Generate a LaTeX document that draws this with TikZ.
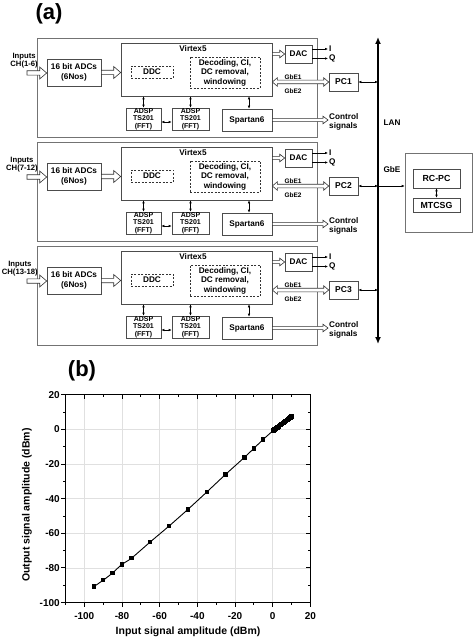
\documentclass[tikz,border=0pt]{standalone}
\usepackage{fontspec}
\setmainfont{Liberation Sans}
\usetikzlibrary{arrows.meta,calc}
\newcommand\fz[2]{\fontsize{#1}{#2}\selectfont\bfseries}
\tikzset{
  box/.style={draw=black!70, line width=0.6pt, fill=white, inner sep=0pt, align=center, font=\fz{8.2}{9.5}},
  dbox/.style={box, dash pattern=on 2pt off 1.5pt, line width=0.7pt, draw=black!80},
  board/.style={draw=black!55, line width=0.6pt, inner sep=0pt},
  txt/.style={inner sep=1pt, align=center, font=\fz{8.2}{9.5}},
  smalltxt/.style={inner sep=0.5pt, font=\fz{6.5}{7.5}},
  adsp/.style={box, font=\fz{7}{7.5}},
  hst/.style={draw=black!80, fill=white, line width=0.6pt},
  sarr/.style={-{Latex[length=3pt,width=2.6pt]}, line width=0.6pt},
  sdarr/.style={{Latex[length=3pt,width=2.6pt]}-{Latex[length=3pt,width=2.6pt]}, line width=0.6pt},
  hollow/.style n args={3}{to path={let \p1=(\tikztostart), \p2=(\tikztotarget) in
    (\x1,\y1+#1) -- (\x2-#3,\y1+#1) -- (\x2-#3,\y1+#2) -- (\x2,\y1) -- (\x2-#3,\y1-#2) -- (\x2-#3,\y1-#1) -- (\x1,\y1-#1) -- cycle}},
  dhollow/.style n args={3}{to path={let \p1=(\tikztostart), \p2=(\tikztotarget) in
    (\x1,\y1) -- (\x1+#3,\y1+#2) -- (\x1+#3,\y1+#1) -- (\x2-#3,\y1+#1) -- (\x2-#3,\y1+#2) -- (\x2,\y1) -- (\x2-#3,\y1-#2) -- (\x2-#3,\y1-#1) -- (\x1+#3,\y1-#1) -- (\x1+#3,\y1-#2) -- cycle}},
  gridl/.style={draw=black!12, line width=0.5pt},
  frame/.style={draw=black, line width=1.1pt},
  tk/.style={line width=0.9pt},
  ticklab/.style={inner sep=0pt, font=\fz{10}{11}},
  axtitle/.style={inner sep=0pt, font=\fz{10.5}{12}},
  panel/.style={inner sep=0pt, font=\fz{22}{24}},
}
\begin{document}
\begin{tikzpicture}[x=1pt, y=-1pt]
\fill[white] (0,0) rectangle (474,639);
\useasboundingbox (0,0) rectangle (474,639);

\node[panel] (pa) at (49,14) {(a)};
\node[panel] (pb) at (82,371) {(b)};

% LAN bus
\coordinate (bustop) at (378,37);
\coordinate (busbot) at (378,344);
\draw[line width=2.4pt, {Latex[length=7pt,width=6pt]}-{Latex[length=7pt,width=6pt]}] (busbot) -- (bustop);
\node[txt] (lan) at (392,123) {LAN};
\node[txt] (gbe) at (392,170) {GbE};

\foreach \k/\lab/\n in {0/1-6/1, 1/7-12/2, 2/13-18/3}{
 \pgfmathsetmacro\dy{104*\k}
 \begin{scope}[shift={(0,\dy)}]
  \node[board, minimum width=280pt, minimum height=99pt] (bd\k) at (177,87.5) {};
  \node[txt, anchor=east, font=\fz{7.7}{8}] (inp\k) at (39,61) {Inputs\\CH(\lab)};
  \coordinate (in\k) at (27,73);
  \node[box, minimum width=54pt, minimum height=27pt] (adc\k) at (74,72.5) {16 bit ADCs\\(6Nos)};
  \node[box, minimum width=151pt, minimum height=53pt] (v\k) at (196.5,69.5) {};
  \node[txt] (vl\k) at (193,49) {Virtex5};
  \node[dbox, minimum width=42pt, minimum height=12pt] (ddc\k) at (152,72) {DDC};
  \node[dbox, minimum width=70pt, minimum height=31pt] (dec\k) at (225,72.5) {Decoding, CI,\\DC removal,\\windowing};
  \node[box, minimum width=27pt, minimum height=18pt] (dac\k) at (298.5,54) {DAC};
  \node[txt, anchor=west] (I\k) at (328,49) {I};
  \node[txt, anchor=west] (Q\k) at (328,58.5) {Q};
  \node[box, minimum width=29pt, minimum height=18pt, font=\fz{8.5}{9.5}] (pc\k) at (343.5,82) {PC\n};
  \node[smalltxt] (ga\k) at (293,77) {GbE1};
  \node[smalltxt] (gb\k) at (293,91) {GbE2};
  \node[box, minimum width=50pt, minimum height=22pt] (sp\k) at (247,120) {Spartan6};
  \node[adsp, minimum width=35pt, minimum height=22pt] (adA\k) at (143.5,119) {ADSP\\TS201\\(FFT)};
  \node[adsp, minimum width=37pt, minimum height=22pt] (adB\k) at (190.5,119) {ADSP\\TS201\\(FFT)};
  \node[txt, anchor=west, align=left, inner sep=1pt] (cs\k) at (328,122) {Control\\signals};

  \draw[hst] (in\k) to[hollow={2.2pt}{6pt}{7pt}] (adc\k.west);
  \draw[hst] (adc\k.east) to[hollow={2.2pt}{6pt}{7pt}] (adc\k.east -| v\k.west);
  \draw[hst] (v\k.east |- dac\k.west) to[hollow={1.6pt}{3.8pt}{5pt}] (dac\k.west);
  \draw[sarr] (dac\k.east |- I\k.west) -- (I\k.west);
  \draw[sarr] (dac\k.east |- Q\k.west) -- (Q\k.west);
  \draw[hst] (v\k.east |- pc\k.west) to[dhollow={1.8pt}{4.2pt}{5pt}] (pc\k.west);
  \draw[sdarr] (pc\k.east) -- (pc\k.east -| bustop);
  \draw[sdarr] (adA\k.north) -- (adA\k.north |- v\k.south);
  \draw[sdarr] (adB\k.north) -- (adB\k.north |- v\k.south);
  \draw[sdarr] ([xshift=2pt]sp\k.north) -- ([xshift=2pt]sp\k.north |- v\k.south);
  \draw[sdarr] ($(adA\k.east)+(0,3)$) -- ($(adB\k.west)+(0,3)$);
  \draw[hst] (sp\k.east) to[hollow={1.6pt}{3.8pt}{5pt}] (sp\k.east -| cs\k.west);
 \end{scope}
}

% RC-PC block
\node[board, minimum width=67pt, minimum height=79pt] (rc) at (438.5,192.5) {};
\node[box, minimum width=47pt, minimum height=19pt, font=\fz{8.8}{10}] (rcpc) at (436.5,178.5) {RC-PC};
\node[box, minimum width=47pt, minimum height=14pt, font=\fz{8.8}{10}] (mt) at (436.5,205) {MTCSG};
\draw[sdarr] (rcpc.south) -- (mt.north);
\draw[sarr] (pc1.east -| bustop) -- (pc1.east -| rc.west);

% plot (b)
\begin{scope}[shift={(272.7,429.3)}, x=1.884pt, y=1.733pt]
  \foreach \g in {-100,-80,-60,-40,-20,0} \draw[gridl] (\g,-100) -- (\g,20);
  \foreach \g in {-80,-60,-40,-20,0} \draw[gridl] (-110,\g) -- (20,\g);
  % ticks
  \foreach \t in {-100,-80,-60,-40,-20,0,20}{
    \draw[tk] (\t,-100) -- ++(0,-4pt);
    \draw[tk] (\t,20) -- ++(0,-4pt);
  }
  \foreach \t in {-110,-90,-70,-50,-30,-10,10}{
    \draw[tk] (\t,-100) -- ++(0,-2.5pt);
    \draw[tk] (\t,20) -- ++(0,-2.5pt);
  }
  \foreach \t in {-100,-80,-60,-40,-20,0,20}{
    \draw[tk] (-110,\t) -- ++(-4pt,0);
    \draw[tk] (20,\t) -- ++(-4pt,0);
  }
  \foreach \t in {-90,-70,-50,-30,-10,10}{
    \draw[tk] (-110,\t) -- ++(-2.5pt,0);
    \draw[tk] (20,\t) -- ++(-2.5pt,0);
  }
  \draw[frame] (-110,-100) rectangle (20,20);
  \foreach \t [count=\i] in {-100,-80,-60,-40,-20,0,20}
    \node[ticklab, yshift=-13.7pt] (xt\i) at (\t,-100) {\t};
  \foreach \t [count=\i] in {-100,-80,-60,-40,-20,0,20}
    \node[ticklab, anchor=east, xshift=-5.5pt] (yt\i) at (-110,\t) {\t};
  % curve
  \draw[line width=0.9pt] plot[smooth] coordinates {(-95,-90.8) (-90,-87.1) (-85,-82.9) (-80,-77.9) (-75,-74.4) (-65,-65) (-55,-55.8) (-45,-46.2) (-35,-36.2) (-25,-26) (-15,-16.2) (-10,-11) (-5,-5.8) (0,-1) (5,3.2) (10,7.3)};
  \foreach \px/\py in {-95/-90.8,-90/-87.1,-85/-82.9,-80/-77.9,-75/-74.4,-65/-65,-55/-55.8,-45/-46.2,-35/-36.2,-25/-26,-15/-16.2,-10/-11,-5/-5.8,0/-1}
    \fill (\px,\py) ++(-2.2pt,-2.2pt) rectangle ++(4.4pt,4.4pt);
  \foreach \px in {0.5,1,...,10}{
    \pgfmathsetmacro\py{-1+0.83*\px}
    \fill (\px,\py) ++(-2.2pt,-2.2pt) rectangle ++(4.4pt,4.4pt);
  }
\end{scope}
\node[axtitle] (xtitle) at (188,632) {Input signal amplitude (dBm)};
\node[axtitle, rotate=90] (ytitle) at (27,505) {Output signal amplitude (dBm)};
\end{tikzpicture}
\end{document}
